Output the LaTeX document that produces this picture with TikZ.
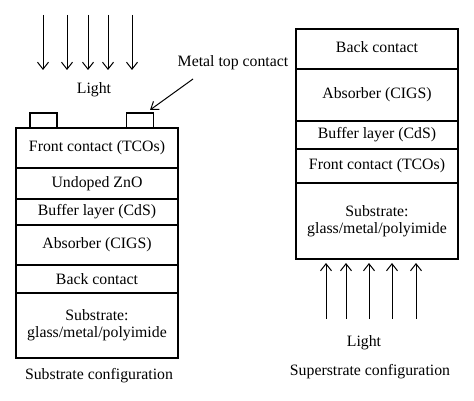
\documentclass[tikz,border=0pt]{standalone}
\usepackage{fontspec}
\setmainfont{Liberation Serif}
\usetikzlibrary{arrows.meta}
\begin{document}
\begin{tikzpicture}[x=1pt,y=-1pt,
  layer/.style={draw, line width=1.1pt, minimum width=162pt, inner sep=0pt, font=\fontsize{15.8}{17}\selectfont, align=center},
  metal/.style={draw, line width=1.1pt, minimum width=27pt, minimum height=15pt, inner sep=0pt},
  lbl/.style={font=\fontsize{15.8}{17}\selectfont, inner sep=0pt},
  ray/.style={line width=1pt, -{Straight Barb[length=7pt,width=11pt]}}]
\useasboundingbox (0,0) rectangle (474,401);
% ---- Substrate configuration (left)
\node[layer, minimum height=40pt] (lfront) at (97,148) {Front contact (TCOs)};
\node[layer, minimum height=31pt] (lzno) at (97,183.5) {Undoped ZnO};
\node[layer, minimum height=26pt] (lbuf) at (97,212) {Buffer layer (CdS)};
\node[layer, minimum height=40pt] (labs) at (97,245) {Absorber (CIGS)};
\node[layer, minimum height=28pt] (lback) at (97,279) {Back contact};
\node[layer, minimum height=65pt] (lsub) at (97,325.5) {Substrate:\\glass/metal/polyimide};
\node[metal] (m1) at (43.5,120.5) {};
\node[metal] (m2) at (140,120.5) {};
\node[lbl] (lcap) at (99,376) {Substrate configuration};
\node[lbl] (llight) at (94,90) {Light};
\foreach \i/\x in {1/43,2/67,3/88,4/108,5/132}{
  \coordinate (ls\i) at (\x,15);
  \coordinate (le\i) at (\x,70);
  \draw[ray] (ls\i) -- (le\i);
}
\node[lbl] (mlab) at (233,63) {Metal top contact};
\coordinate (mtail) at (193,79);
\coordinate (mhead) at (150,110);
\draw[line width=1pt, -{Straight Barb[length=7pt,width=10pt]}] (mtail) -- (mhead);
% ---- Superstrate configuration (right)
\node[layer, minimum height=40pt] (rback) at (377,49) {\raisebox{4pt}{Back contact}};
\node[layer, minimum height=52pt] (rabs) at (377,95) {\raisebox{-3pt}{Absorber (CIGS)}};
\node[layer, minimum height=28pt] (rbuf) at (377,135) {Buffer layer (CdS)};
\node[layer, minimum height=34pt] (rfront) at (377,166) {Front contact (TCOs)};
\node[layer, minimum height=76pt] (rsub) at (377,221) {Substrate:\\glass/metal/polyimide};
\node[lbl] (rlight) at (364,343) {Light};
\node[lbl] (rcap) at (370,372) {Superstrate configuration};
\foreach \i/\x in {1/326,2/346,3/369,4/392,5/416}{
  \coordinate (rs\i) at (\x,319);
  \coordinate (re\i) at (\x,263);
  \draw[ray] (rs\i) -- (re\i);
}
\end{tikzpicture}
\end{document}
